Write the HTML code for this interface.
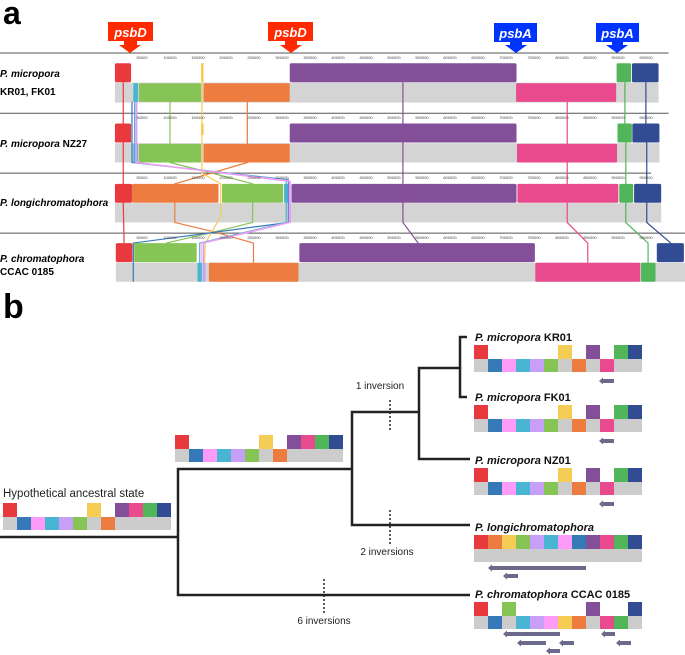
<!DOCTYPE html>
<html><head><meta charset="utf-8"><style>
html,body{margin:0;padding:0;background:#fff;}
svg{display:block;font-family:"Liberation Sans",sans-serif;}
</style></head><body>
<svg width="685" height="655" viewBox="0 0 685 655" xmlns="http://www.w3.org/2000/svg">
<text x="3" y="24" font-size="32" font-weight="bold">a</text>
<text x="3" y="318" font-size="34" font-weight="bold">b</text>

<!-- panel a scaled group -->
<g transform="scale(0.437 0.333)">
 <g stroke="#555" stroke-width="1" vector-effect="non-scaling-stroke">
  <line x1="0" y1="159" x2="1530" y2="159" vector-effect="non-scaling-stroke"/>
  <line x1="0" y1="340" x2="1530" y2="340" vector-effect="non-scaling-stroke"/>
  <line x1="0" y1="520" x2="1490" y2="520" vector-effect="non-scaling-stroke"/>
  <line x1="0" y1="700" x2="1568" y2="700" vector-effect="non-scaling-stroke"/>
 </g>
 <!-- track 1 -->
 <rect x="263" y="248" width="1244" height="60" fill="#d4d4d4"/>
 <rect x="263" y="190" width="37" height="57" fill="#e8393f" rx="4"/>
 <rect x="460" y="190" width="6" height="57" fill="#f5cd55"/>
 <rect x="663" y="190" width="519" height="57" fill="#844f99" rx="4"/>
 <rect x="1411" y="190" width="33" height="57" fill="#51b55a" rx="3"/>
 <rect x="1446" y="190" width="61" height="57" fill="#324c94" rx="4"/>
 <rect x="305" y="250" width="11" height="56" fill="#4ab5d3"/>
 <rect x="318" y="250" width="142" height="56" fill="#86c456" rx="3"/>
 <rect x="466" y="250" width="197" height="56" fill="#ec7c3f" rx="3"/>
 <rect x="1181" y="250" width="229" height="56" fill="#e84a8d" rx="3"/>
 <!-- track 2 -->
 <rect x="263" y="430" width="1246" height="58" fill="#d4d4d4"/>
 <rect x="263" y="371" width="37" height="57" fill="#e8393f" rx="4"/>
 <rect x="460" y="371" width="6" height="34" fill="#f5cd55"/>
 <rect x="663" y="371" width="519" height="57" fill="#844f99" rx="4"/>
 <rect x="1413" y="371" width="33" height="57" fill="#51b55a" rx="3"/>
 <rect x="1447" y="371" width="62" height="57" fill="#324c94" rx="4"/>
 <rect x="305" y="432" width="11" height="56" fill="#4ab5d3"/>
 <rect x="318" y="432" width="142" height="56" fill="#86c456" rx="3"/>
 <rect x="466" y="432" width="197" height="56" fill="#ec7c3f" rx="3"/>
 <rect x="1183" y="432" width="229" height="56" fill="#e84a8d" rx="3"/>
 <!-- track 3 -->
 <rect x="263" y="610" width="1250" height="58" fill="#d4d4d4"/>
 <rect x="263" y="552" width="39" height="57" fill="#e8393f" rx="4"/>
 <rect x="302" y="552" width="198" height="57" fill="#ec7c3f" rx="3"/>
 <rect x="508" y="552" width="140" height="57" fill="#86c456" rx="3"/>
 <rect x="650" y="552" width="14" height="57" fill="#4ab5d3"/>
 <rect x="667" y="552" width="515" height="57" fill="#844f99" rx="4"/>
 <rect x="1184" y="552" width="231" height="57" fill="#e84a8d" rx="3"/>
 <rect x="1417" y="552" width="32" height="57" fill="#51b55a" rx="3"/>
 <rect x="1451" y="552" width="62" height="57" fill="#324c94" rx="4"/>
 <!-- track 4 -->
 <rect x="265" y="789" width="1303" height="57" fill="#d4d4d4"/>
 <rect x="265" y="730" width="38" height="57" fill="#e8393f" rx="4"/>
 <rect x="307" y="730" width="143" height="57" fill="#86c456" rx="3"/>
 <rect x="685" y="730" width="539" height="57" fill="#844f99" rx="4"/>
 <rect x="1503" y="730" width="62" height="57" fill="#324c94" rx="4"/>
 <rect x="452" y="789" width="10" height="57" fill="#4ab5d3"/>
 <rect x="464" y="789" width="6" height="57" fill="#c79ef8"/>
 <rect x="478" y="789" width="205" height="57" fill="#ec7c3f" rx="3"/>
 <rect x="1225" y="789" width="240" height="57" fill="#e84a8d" rx="3"/>
 <rect x="1467" y="789" width="33" height="57" fill="#51b55a" rx="3"/>
 <!-- connectors -->
 <g fill="none" stroke-width="1.2">
  <polyline vector-effect="non-scaling-stroke" stroke="#e8393f" points="282,247 282,371 282,428 282,552 282,609 284,730"/>
  <polyline vector-effect="non-scaling-stroke" stroke="#844f99" points="922,247 922,371 922,428 922,552 922,668 957,730"/>
  <polyline vector-effect="non-scaling-stroke" stroke="#86c456" points="389,306 389,432 389,488 480,518 578,552 578,668 480,700 380,730"/>
  <polyline vector-effect="non-scaling-stroke" stroke="#ec7c3f" points="566,306 566,432 566,488 400,552 400,668 495,698 580,730 580,789"/>
  <polyline vector-effect="non-scaling-stroke" stroke="#f5cd55" points="462,247 462,371 462,428 462,520 505,552 505,650 470,730 468,789"/>
  <polyline vector-effect="non-scaling-stroke" stroke="#e84a8d" points="1298,306 1298,432 1298,488 1298,552 1298,668 1345,730 1345,789"/>
  <polyline vector-effect="non-scaling-stroke" stroke="#51b55a" points="1430,247 1430,371 1432,428 1432,552 1432,668 1483,730 1483,789"/>
  <polyline vector-effect="non-scaling-stroke" stroke="#324c94" points="1478,247 1478,371 1480,428 1480,552 1480,668 1535,730"/>
  <polyline vector-effect="non-scaling-stroke" stroke="#3579b8" points="302,306 302,432 302,488 660,540 660,668 305,730 305,846"/>
  <polyline vector-effect="non-scaling-stroke" stroke="#4ab5d3" points="308,306 308,432 308,488 655,540 655,668 457,730 457,789"/>
  <polyline vector-effect="non-scaling-stroke" stroke="#c79ef8" points="313,306 313,432 313,488 664,545 664,668 466,730 466,789"/>
  <polyline vector-effect="non-scaling-stroke" stroke="#fd9bf8" points="311,306 311,432 311,488 662,543 662,668 462,730 462,789"/>
 </g>
</g>

<!-- gene markers -->
<rect x="108" y="22" width="45" height="19" fill="#ff2a00"/>
<text x="130.5" y="37" font-size="13" font-style="italic" font-weight="bold" fill="#fff" text-anchor="middle">psbD</text>
<polygon points="124,41 137,41 137,45 141,45 130,53 119,45 124,45" fill="#ff2a00"/>
<rect x="268" y="22" width="45" height="19" fill="#ff2a00"/>
<text x="290.5" y="37" font-size="13" font-style="italic" font-weight="bold" fill="#fff" text-anchor="middle">psbD</text>
<polygon points="285,41 297,41 297,45 302,45 291,53 280,45 285,45" fill="#ff2a00"/>
<rect x="494" y="23" width="43" height="19" fill="#0033ff"/>
<text x="515.5" y="38" font-size="13" font-style="italic" font-weight="bold" fill="#fff" text-anchor="middle">psbA</text>
<polygon points="510,42 522,42 522,45 527,45 516,53 505,45 510,45" fill="#0033ff"/>
<rect x="596" y="23" width="43" height="19" fill="#0033ff"/>
<text x="617.5" y="38" font-size="13" font-style="italic" font-weight="bold" fill="#fff" text-anchor="middle">psbA</text>
<polygon points="612,42 623,42 623,45 628,45 617,53 606,45 612,45" fill="#0033ff"/>

<!-- tick labels -->
<g font-size="4" fill="#444" text-anchor="middle">
 <g id="t1">
 <text x="142" y="59">50000</text><text x="170" y="59">100000</text><text x="198" y="59">150000</text><text x="226" y="59">200000</text><text x="254" y="59">250000</text><text x="282" y="59">300000</text><text x="310" y="59">350000</text><text x="338" y="59">400000</text><text x="366" y="59">450000</text><text x="394" y="59">500000</text><text x="422" y="59">550000</text><text x="450" y="59">600000</text><text x="478" y="59">650000</text><text x="506" y="59">700000</text><text x="534" y="59">750000</text><text x="562" y="59">800000</text><text x="590" y="59">850000</text><text x="618" y="59">900000</text><text x="646" y="59">950000</text>
 </g>
 <use href="#t1" y="60"/><use href="#t1" y="120"/><use href="#t1" y="180"/>
</g>

<!-- track labels -->
<g font-size="10" font-weight="bold">
 <text x="0" y="77" font-style="italic">P. micropora</text>
 <text x="0" y="95">KR01, FK01</text>
 <text x="0" y="147"><tspan font-style="italic">P. micropora</tspan> NZ27</text>
 <text x="0" y="206" font-style="italic">P. longichromatophora</text>
 <text x="0" y="262" font-style="italic">P. chromatophora</text>
 <text x="0" y="275">CCAC 0185</text>
</g>

<!-- panel b tree -->
<g stroke="#222" stroke-width="2.5" fill="none">
 <polyline points="0,537 178,537"/>
 <polyline points="352,469 178,469 178,595 470,595"/>
 <polyline points="419,412 352,412 352,525 470,525"/>
 <polyline points="460,368 419,368 419,459 470,459"/>
 <polyline points="467,337 460,337 460,397 467,397"/>
</g>
<g stroke="#222" stroke-width="1.5" stroke-dasharray="2,2">
 <line x1="390" y1="400" x2="390" y2="431"/>
 <line x1="390" y1="510" x2="390" y2="545"/>
 <line x1="324" y1="579" x2="324" y2="615"/>
</g>
<g font-size="10" fill="#222" text-anchor="middle">
 <text x="380" y="389">1 inversion</text>
 <text x="387" y="555">2 inversions</text>
 <text x="324" y="624">6 inversions</text>
</g>
<text x="3" y="497" font-size="11.5" fill="#222">Hypothetical ancestral state</text>

<g font-size="11" font-weight="bold" fill="#111">
 <text x="475" y="341"><tspan font-style="italic">P. micropora</tspan> KR01</text>
 <text x="475" y="401"><tspan font-style="italic">P. micropora</tspan> FK01</text>
 <text x="475" y="464"><tspan font-style="italic">P. micropora</tspan> NZ01</text>
 <text x="475" y="531" font-style="italic">P. longichromatophora</text>
 <text x="475" y="598"><tspan font-style="italic">P. chromatophora</tspan> CCAC 0185</text>
</g>

<defs>
 <g id="anc">
  <rect x="0" y="14" width="168" height="13" fill="#cccccc"/>
  <rect x="0" y="0" width="14" height="14" fill="#e8393f"/>
  <rect x="84" y="0" width="14" height="14" fill="#f5cd55"/>
  <rect x="112" y="0" width="14" height="14" fill="#844f99"/>
  <rect x="126" y="0" width="14" height="14" fill="#e84a8d"/>
  <rect x="140" y="0" width="14" height="14" fill="#51b55a"/>
  <rect x="154" y="0" width="14" height="14" fill="#324c94"/>
  <rect x="14" y="14" width="14" height="13" fill="#3579b8"/>
  <rect x="28" y="14" width="14" height="13" fill="#fd9bf8"/>
  <rect x="42" y="14" width="14" height="13" fill="#4ab5d3"/>
  <rect x="56" y="14" width="14" height="13" fill="#c79ef8"/>
  <rect x="70" y="14" width="14" height="13" fill="#86c456"/>
  <rect x="98" y="14" width="14" height="13" fill="#ec7c3f"/>
 </g>
 <g id="mic">
  <rect x="0" y="14" width="168" height="13" fill="#cccccc"/>
  <rect x="0" y="0" width="14" height="14" fill="#e8393f"/>
  <rect x="84" y="0" width="14" height="14" fill="#f5cd55"/>
  <rect x="112" y="0" width="14" height="14" fill="#844f99"/>
  <rect x="140" y="0" width="14" height="14" fill="#51b55a"/>
  <rect x="154" y="0" width="14" height="14" fill="#324c94"/>
  <rect x="14" y="14" width="14" height="13" fill="#3579b8"/>
  <rect x="28" y="14" width="14" height="13" fill="#fd9bf8"/>
  <rect x="42" y="14" width="14" height="13" fill="#4ab5d3"/>
  <rect x="56" y="14" width="14" height="13" fill="#c79ef8"/>
  <rect x="70" y="14" width="14" height="13" fill="#86c456"/>
  <rect x="98" y="14" width="14" height="13" fill="#ec7c3f"/>
  <rect x="126" y="14" width="14" height="13" fill="#e84a8d"/>
  <polygon points="129,34 140,34 140,38 129,38 129,39.5 125,36 129,32.5" fill="#6b6a8a"/>
 </g>
</defs>
<use href="#anc" x="3" y="503"/>
<use href="#anc" x="175" y="435"/>
<use href="#mic" x="474" y="345"/>
<use href="#mic" x="474" y="405"/>
<use href="#mic" x="474" y="468"/>

<!-- longi -->
<g transform="translate(474,535)">
 <rect x="0" y="14" width="168" height="13" fill="#cccccc"/>
 <rect x="0" y="0" width="14" height="14" fill="#e8393f"/>
 <rect x="14" y="0" width="14" height="14" fill="#ec7c3f"/>
 <rect x="28" y="0" width="14" height="14" fill="#f5cd55"/>
 <rect x="42" y="0" width="14" height="14" fill="#86c456"/>
 <rect x="56" y="0" width="14" height="14" fill="#c79ef8"/>
 <rect x="70" y="0" width="14" height="14" fill="#4ab5d3"/>
 <rect x="84" y="0" width="14" height="14" fill="#fd9bf8"/>
 <rect x="98" y="0" width="14" height="14" fill="#3579b8"/>
 <rect x="112" y="0" width="14" height="14" fill="#844f99"/>
 <rect x="126" y="0" width="14" height="14" fill="#e84a8d"/>
 <rect x="140" y="0" width="14" height="14" fill="#51b55a"/>
 <rect x="154" y="0" width="14" height="14" fill="#324c94"/>
 <polygon points="18,31 112,31 112,35 18,35 18,36.5 14,33 18,29.5" fill="#6b6a8a"/>
 <polygon points="33,39 44,39 44,43 33,43 33,44.5 29,41 33,37.5" fill="#6b6a8a"/>
</g>
<!-- chromato -->
<g transform="translate(474,602)">
 <rect x="0" y="14" width="168" height="13" fill="#cccccc"/>
 <rect x="0" y="0" width="14" height="14" fill="#e8393f"/>
 <rect x="28" y="0" width="14" height="14" fill="#86c456"/>
 <rect x="112" y="0" width="14" height="14" fill="#844f99"/>
 <rect x="154" y="0" width="14" height="14" fill="#324c94"/>
 <rect x="14" y="14" width="14" height="13" fill="#3579b8"/>
 <rect x="42" y="14" width="14" height="13" fill="#4ab5d3"/>
 <rect x="56" y="14" width="14" height="13" fill="#c79ef8"/>
 <rect x="70" y="14" width="14" height="13" fill="#fd9bf8"/>
 <rect x="84" y="14" width="14" height="13" fill="#f5cd55"/>
 <rect x="98" y="14" width="14" height="13" fill="#ec7c3f"/>
 <rect x="126" y="14" width="14" height="13" fill="#e84a8d"/>
 <rect x="140" y="14" width="14" height="13" fill="#51b55a"/>
 <g fill="#6b6a8a">
  <polygon points="33,30 86,30 86,34 33,34 33,35.5 29,32 33,28.5"/>
  <polygon points="131,30 141,30 141,34 131,34 131,35.5 127,32 131,28.5"/>
  <polygon points="47,39 72,39 72,43 47,43 47,44.5 43,41 47,37.5"/>
  <polygon points="89,39 100,39 100,43 89,43 89,44.5 85,41 89,37.5"/>
  <polygon points="146,39 157,39 157,43 146,43 146,44.5 142,41 146,37.5"/>
  <polygon points="76,47 86,47 86,51 76,51 76,52.5 72,49 76,45.5"/>
 </g>
</g>
</svg>
</body></html>
